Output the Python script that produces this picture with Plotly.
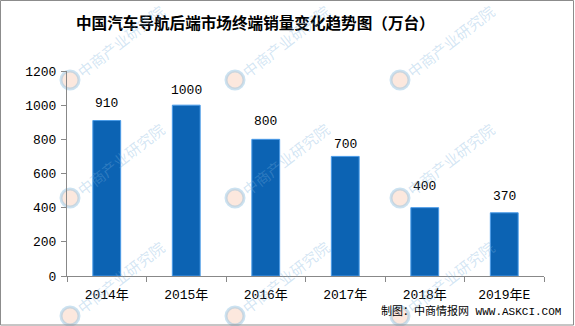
import plotly.graph_objects as go

categories = ["2014年", "2015年", "2016年", "2017年", "2018年", "2019年E"]
sales = [910, 1000, 800, 700, 400, 370]
label_shift = [8, 5, 8, 2, 12, 7]
y_ticks = [0, 200, 400, 600, 800, 1000, 1200]

title = "中国汽车导航后端市场终端销量变化趋势图（万台）"
source = "制图：中商情报网 WWW.ASKCI.COM"
watermark = "中商产业研究院"

W, H = 575, 326
L, R, T, B = 67, 31, 71, 50
PW, PH = W - L - R, H - T - B


def px(x):
    return (x - L) / PW


def py(y):
    return (H - B - y) / PH


mono = "Liberation Mono, Noto Sans CJK SC, monospace"
cjk = "Noto Sans CJK SC, sans-serif"

fig = go.Figure()
fig.add_trace(go.Bar(
    x=categories, y=sales, width=0.35,
    marker=dict(color="#0c63b3", line=dict(color="#4a9be8", width=1)),
    hoverinfo="skip",
))

annotations = []
for c, v, s in zip(categories, sales, label_shift):
    annotations.append(dict(
        x=c, y=v, text=str(v), showarrow=False, yanchor="bottom",
        yshift=s, font=dict(family=mono, size=13, color="#000"),
    ))

annotations.append(dict(
    xref="paper", yref="paper", x=px(255), y=py(22), text="<b>" + title + "</b>",
    showarrow=False, xanchor="center", yanchor="middle",
    font=dict(family=cjk, size=15.6, color="#000"),
))
annotations.append(dict(
    xref="paper", yref="paper", x=px(563), y=py(311), text=source,
    showarrow=False, xanchor="right", yanchor="middle",
    font=dict(family=mono, size=11, color="#000"),
))

shapes = []
wm_col = "rgba(120,175,220,0.32)"
for lx in [70, 235, 400]:
    for ly in [80, 198, 316]:
        shapes.append(dict(
            type="circle", xref="paper", yref="paper", layer="below",
            x0=px(lx - 9), x1=px(lx + 9), y0=py(ly + 9), y1=py(ly - 9),
            line=dict(color="rgba(140,190,225,0.45)", width=3),
            fillcolor="rgba(245,190,160,0.35)",
        ))
        annotations.append(dict(
            xref="paper", yref="paper", x=px(lx + 50), y=py(ly - 39),
            text=watermark, showarrow=False, textangle=-38,
            xanchor="center", yanchor="middle",
            font=dict(family=cjk, size=15, color=wm_col),
        ))

shapes.append(dict(
    type="rect", xref="paper", yref="paper",
    x0=px(0.5), x1=px(573.5), y0=py(325), y1=py(0.5),
    line=dict(color="#8c8c8c", width=1),
))

fig.update_layout(
    width=W, height=H,
    margin=dict(l=L, r=R, t=T, b=B),
    paper_bgcolor="white", plot_bgcolor="rgba(0,0,0,0)",
    showlegend=False,
    annotations=annotations, shapes=shapes,
    xaxis=dict(
        showline=True, linecolor="#888", linewidth=1,
        ticks="outside", ticklen=5, tickcolor="#888", tickson="boundaries",
        tickfont=dict(family=mono, size=13, color="#000"),
        ticklabelstandoff=6, showgrid=False, zeroline=False,
    ),
    yaxis=dict(
        range=[0, 1200], tickvals=y_ticks,
        showline=True, linecolor="#888", linewidth=1,
        ticks="outside", ticklen=5, tickcolor="#888",
        tickfont=dict(family=mono, size=13, color="#000"),
        ticklabelstandoff=2, showgrid=False, zeroline=False,
    ),
)

fig.write_html("out.html")
